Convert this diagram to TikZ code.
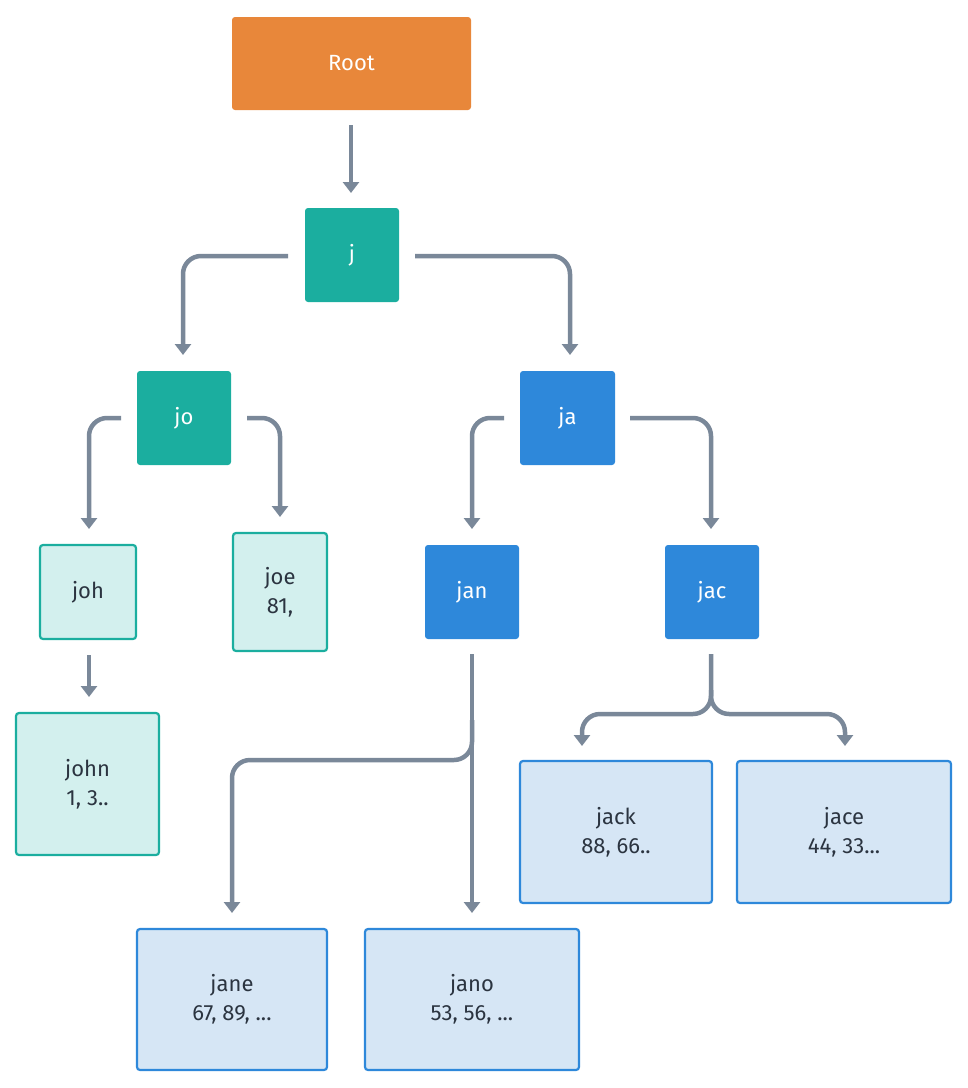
\documentclass[tikz,border=0pt]{standalone}
\usepackage{fontspec}
\setmainfont{Fira Sans}
\usetikzlibrary{arrows.meta}
\definecolor{org}{HTML}{E8873A}
\definecolor{tl}{HTML}{1BAE9F}
\definecolor{bl}{HTML}{2E88DA}
\definecolor{ltl}{HTML}{D3F0EE}
\definecolor{lbl}{HTML}{D6E6F5}
\definecolor{ar}{HTML}{7A8899}
\definecolor{tx}{HTML}{2B3440}
\begin{document}
\begin{tikzpicture}[x=1pt,y=-1pt,
 box/.style={rounded corners=3pt,inner sep=0pt,font=\fontsize{22}{29}\selectfont,align=center},
 dark/.style={box,fill=#1,text=white},
 light/.style={box,fill=#1,draw=#1!80!black,line width=2.2pt,text=tx},
 ln/.style={draw=ar,line width=4.5pt,rounded corners=18pt},
 arr/.style={ln,-{Triangle[length=11pt,width=16pt]}}]
\useasboundingbox (0,0) rectangle (968,1088);
\newcommand\bx[6]{\node[#1,minimum width={#4-#2},minimum height={#5-#3}] (#6) at ({(#2+#4)/2},{(#3+#5)/2})}
\bx{dark=org}{232}{17}{471}{110}{root} {Root};
\bx{dark=tl}{305}{208}{399}{302}{j} {j};
\bx{dark=tl}{137}{371}{231}{465}{jo} {jo};
\bx{dark=bl}{520}{371}{615}{465}{ja} {ja};
\bx{light=ltl,draw=tl}{40}{545}{136}{639}{joh} {joh};
\bx{light=ltl,draw=tl}{233}{533}{327}{651}{joe} {joe\\81,};
\bx{dark=bl}{425}{545}{519}{639}{jan} {jan};
\bx{dark=bl}{665}{545}{759}{639}{jac} {jac};
\bx{light=ltl,draw=tl}{16}{713}{159}{855}{john} {john\\1, 3..};
\bx{light=lbl,draw=bl}{520}{761}{712}{903}{jack} {jack\\88, 66..};
\bx{light=lbl,draw=bl}{737}{761}{951}{903}{jace} {jace\\44, 33...};
\bx{light=lbl,draw=bl}{137}{929}{327}{1070}{jane} {jane\\67, 89, ...};
\bx{light=lbl,draw=bl}{365}{929}{579}{1070}{jano} {jano\\53, 56, ...};
\coordinate (a0) at (351,125);
\draw[arr] (a0) -- (351,193) coordinate (a1);
\coordinate (b0) at (288,256); \draw[arr] (b0) -| (183,355) coordinate (b1);
\coordinate (c0) at (415,256); \draw[arr] (c0) -| (570,355) coordinate (c1);
\coordinate (d0) at (121,418); \draw[arr] (d0) -| (89,529) coordinate (d1);
\coordinate (e0) at (247,418); \draw[arr] (e0) -| (280,517) coordinate (e1);
\coordinate (f0) at (504,418); \draw[arr] (f0) -| (472,529) coordinate (f1);
\coordinate (g0) at (630,418); \draw[arr] (g0) -| (711,529) coordinate (g1);
\coordinate (h0) at (89,655); \draw[arr] (h0) -- (89,697) coordinate (h1);
\coordinate (i0) at (472,654); \draw[arr] (i0) -- (472,913) coordinate (i1);
\draw[arr] (472,720) |- (340,760) -| (232,913);
\coordinate (k0) at (711,654);
\draw[arr] (k0) |- (650,714) -| (582,746);
\draw[arr] (711,690) |- (780,714) -| (845,746);
\end{tikzpicture}
\end{document}
